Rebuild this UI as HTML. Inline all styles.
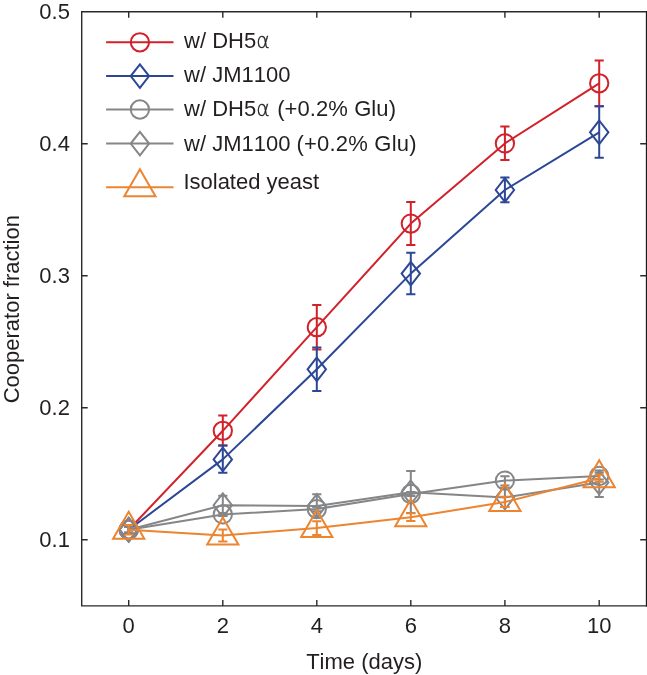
<!DOCTYPE html>
<html lang="en"><head><meta charset="utf-8"><title>Cooperator fraction vs time</title>
<style>html,body{margin:0;padding:0;background:#fff}svg{display:block}</style></head>
<body>
<svg width="647" height="675" viewBox="0 0 647 675">
<rect width="647" height="675" fill="#fff"/>
<g stroke="#2b2a2b" stroke-width="1.4" fill="none" stroke-linecap="butt">
<path d="M646.8000000000001 11.7H81.7V605.9H646.8000000000001"/>
<rect x="645.85" y="11.05" width="1.15" height="595.50" fill="#1a1a1a" stroke="none"/>
<path d="M128.7 605.9v-6M128.7 11.7v6"/>
<path d="M222.8 605.9v-6M222.8 11.7v6"/>
<path d="M316.8 605.9v-6M316.8 11.7v6"/>
<path d="M410.8 605.9v-6M410.8 11.7v6"/>
<path d="M504.9 605.9v-6M504.9 11.7v6"/>
<path d="M599.2 605.9v-6M599.2 11.7v6"/>
<path d="M81.7 539.8h6M646.2 539.8h-6"/>
<path d="M81.7 407.8h6M646.2 407.8h-6"/>
<path d="M81.7 275.7h6M646.2 275.7h-6"/>
<path d="M81.7 143.7h6M646.2 143.7h-6"/>
</g>
<g stroke="#d1212a" stroke-width="2.0" fill="none">
<polyline points="128.7,529.7 222.8,430.8 316.8,327.2 410.8,223.6 504.9,143.4 599.2,83.3" stroke-linejoin="round"/>
<path d="M128.7 526.0V533.4M124.1 526.0h9.2M124.1 533.4h9.2"/>
<path d="M222.8 415.6V445.4M218.2 415.6h9.2M218.2 445.4h9.2"/>
<path d="M316.8 304.9V349.4M312.2 304.9h9.2M312.2 349.4h9.2"/>
<path d="M410.8 202.1V245.1M406.2 202.1h9.2M406.2 245.1h9.2"/>
<path d="M504.9 126.4V160.0M500.3 126.4h9.2M500.3 160.0h9.2"/>
<path d="M599.2 60.5V106.3M594.6 60.5h9.2M594.6 106.3h9.2"/>
</g>
<circle cx="128.7" cy="529.7" r="9.15" fill="none" stroke="#d1212a" stroke-width="2.0"/>
<circle cx="222.8" cy="430.8" r="9.15" fill="none" stroke="#d1212a" stroke-width="2.0"/>
<circle cx="316.8" cy="327.2" r="9.15" fill="none" stroke="#d1212a" stroke-width="2.0"/>
<circle cx="410.8" cy="223.6" r="9.15" fill="none" stroke="#d1212a" stroke-width="2.0"/>
<circle cx="504.9" cy="143.4" r="9.15" fill="none" stroke="#d1212a" stroke-width="2.0"/>
<circle cx="599.2" cy="83.3" r="9.15" fill="none" stroke="#d1212a" stroke-width="2.0"/>
<g stroke="#2c4796" stroke-width="2.0" fill="none">
<polyline points="128.7,529.7 222.8,459.4 316.8,369.3 410.8,273.6 504.9,190.0 599.2,132.3" stroke-linejoin="round"/>
<path d="M128.7 526.0V533.4M124.1 526.0h9.2M124.1 533.4h9.2"/>
<path d="M222.8 445.4V472.8M218.2 445.4h9.2M218.2 472.8h9.2"/>
<path d="M316.8 347.5V391.1M312.2 347.5h9.2M312.2 391.1h9.2"/>
<path d="M410.8 252.7V294.2M406.2 252.7h9.2M406.2 294.2h9.2"/>
<path d="M504.9 177.6V202.2M500.3 177.6h9.2M500.3 202.2h9.2"/>
<path d="M599.2 106.3V157.8M594.6 106.3h9.2M594.6 157.8h9.2"/>
</g>
<path d="M128.7 517.9L137.9 529.7L128.7 541.5L119.5 529.7Z" fill="none" stroke="#2c4796" stroke-width="2.0" stroke-linejoin="miter"/>
<path d="M222.8 447.6L232.0 459.4L222.8 471.2L213.6 459.4Z" fill="none" stroke="#2c4796" stroke-width="2.0" stroke-linejoin="miter"/>
<path d="M316.8 357.5L326.0 369.3L316.8 381.1L307.6 369.3Z" fill="none" stroke="#2c4796" stroke-width="2.0" stroke-linejoin="miter"/>
<path d="M410.8 261.8L420.0 273.6L410.8 285.4L401.6 273.6Z" fill="none" stroke="#2c4796" stroke-width="2.0" stroke-linejoin="miter"/>
<path d="M504.9 178.2L514.1 190.0L504.9 201.8L495.7 190.0Z" fill="none" stroke="#2c4796" stroke-width="2.0" stroke-linejoin="miter"/>
<path d="M599.2 120.5L608.4 132.3L599.2 144.1L590.0 132.3Z" fill="none" stroke="#2c4796" stroke-width="2.0" stroke-linejoin="miter"/>
<g stroke="#858688" stroke-width="2.0" fill="none">
<polyline points="128.7,529.7 222.8,514.4 316.8,509.1 410.8,494.0 504.9,480.6 599.2,476.0" stroke-linejoin="round"/>
<path d="M128.7 527.0V532.5M124.1 527.0h9.2M124.1 532.5h9.2"/>
<path d="M222.8 512.9V515.9M218.2 512.9h9.2M218.2 515.9h9.2"/>
<path d="M316.8 507.0V511.2M312.2 507.0h9.2M312.2 511.2h9.2"/>
<path d="M410.8 492.0V496.0M406.2 492.0h9.2M406.2 496.0h9.2"/>
<path d="M504.9 476.2V485.6M500.3 476.2h9.2M500.3 485.6h9.2"/>
<path d="M599.2 472.5V479.5M594.6 472.5h9.2M594.6 479.5h9.2"/>
</g>
<circle cx="128.7" cy="529.7" r="9.15" fill="none" stroke="#858688" stroke-width="2.0"/>
<circle cx="222.8" cy="514.4" r="9.15" fill="none" stroke="#858688" stroke-width="2.0"/>
<circle cx="316.8" cy="509.1" r="9.15" fill="none" stroke="#858688" stroke-width="2.0"/>
<circle cx="410.8" cy="494.0" r="9.15" fill="none" stroke="#858688" stroke-width="2.0"/>
<circle cx="504.9" cy="480.6" r="9.15" fill="none" stroke="#858688" stroke-width="2.0"/>
<circle cx="599.2" cy="476.0" r="9.15" fill="none" stroke="#858688" stroke-width="2.0"/>
<g stroke="#858688" stroke-width="2.0" fill="none">
<polyline points="128.7,529.7 222.8,505.2 316.8,506.0 410.8,492.3 504.9,497.5 599.2,482.6" stroke-linejoin="round"/>
<path d="M128.7 527.0V532.5M124.1 527.0h9.2M124.1 532.5h9.2"/>
<path d="M222.8 495.8V515.9M218.2 495.8h9.2M218.2 515.9h9.2"/>
<path d="M316.8 494.3V517.7M312.2 494.3h9.2M312.2 517.7h9.2"/>
<path d="M410.8 471.0V513.0M406.2 471.0h9.2M406.2 513.0h9.2"/>
<path d="M504.9 487.9V507.1M500.3 487.9h9.2M500.3 507.1h9.2"/>
<path d="M599.2 470.5V497.0M594.6 470.5h9.2M594.6 497.0h9.2"/>
</g>
<path d="M128.7 517.9L137.9 529.7L128.7 541.5L119.5 529.7Z" fill="none" stroke="#858688" stroke-width="2.0" stroke-linejoin="miter"/>
<path d="M222.8 493.4L232.0 505.2L222.8 517.0L213.6 505.2Z" fill="none" stroke="#858688" stroke-width="2.0" stroke-linejoin="miter"/>
<path d="M316.8 494.2L326.0 506.0L316.8 517.8L307.6 506.0Z" fill="none" stroke="#858688" stroke-width="2.0" stroke-linejoin="miter"/>
<path d="M410.8 480.5L420.0 492.3L410.8 504.1L401.6 492.3Z" fill="none" stroke="#858688" stroke-width="2.0" stroke-linejoin="miter"/>
<path d="M504.9 485.7L514.1 497.5L504.9 509.3L495.7 497.5Z" fill="none" stroke="#858688" stroke-width="2.0" stroke-linejoin="miter"/>
<path d="M599.2 470.8L608.4 482.6L599.2 494.4L590.0 482.6Z" fill="none" stroke="#858688" stroke-width="2.0" stroke-linejoin="miter"/>
<g stroke="#ec8430" stroke-width="2.0" fill="none">
<polyline points="128.7,529.8 222.8,535.4 316.8,527.9 410.8,517.3 504.9,502.0 599.2,478.3" stroke-linejoin="round"/>
<path d="M128.7 524.9V534.6M124.1 524.9h9.2M124.1 534.6h9.2"/>
<path d="M222.8 529.5V541.6M218.2 529.5h9.2M218.2 541.6h9.2"/>
<path d="M316.8 521.3V535.0M312.2 521.3h9.2M312.2 535.0h9.2"/>
<path d="M410.8 513.2V521.1M406.2 513.2h9.2M406.2 521.1h9.2"/>
<path d="M504.9 496.7V507.1M500.3 496.7h9.2M500.3 507.1h9.2"/>
<path d="M599.2 474.8V481.8M594.6 474.8h9.2M594.6 481.8h9.2"/>
</g>
<path d="M128.7 511.8L144.3 538.8L113.1 538.8Z" fill="none" stroke="#ec8430" stroke-width="2.0" stroke-linejoin="miter"/>
<path d="M222.8 517.4L238.4 544.4L207.2 544.4Z" fill="none" stroke="#ec8430" stroke-width="2.0" stroke-linejoin="miter"/>
<path d="M316.8 509.9L332.4 536.9L301.2 536.9Z" fill="none" stroke="#ec8430" stroke-width="2.0" stroke-linejoin="miter"/>
<path d="M410.8 499.3L426.4 526.3L395.2 526.3Z" fill="none" stroke="#ec8430" stroke-width="2.0" stroke-linejoin="miter"/>
<path d="M504.9 484.0L520.5 511.0L489.3 511.0Z" fill="none" stroke="#ec8430" stroke-width="2.0" stroke-linejoin="miter"/>
<path d="M599.2 460.3L614.8 487.3L583.6 487.3Z" fill="none" stroke="#ec8430" stroke-width="2.0" stroke-linejoin="miter"/>
<path d="M106.1 42.3H173.5" stroke="#d1212a" stroke-width="2.0" fill="none"/>
<circle cx="139.9" cy="42.3" r="9.15" fill="none" stroke="#d1212a" stroke-width="2.0"/>
<path d="M106.1 76.1H173.5" stroke="#2c4796" stroke-width="2.0" fill="none"/>
<path d="M139.9 64.3L149.1 76.1L139.9 87.9L130.7 76.1Z" fill="none" stroke="#2c4796" stroke-width="2.0" stroke-linejoin="miter"/>
<path d="M106.1 109.5H173.5" stroke="#858688" stroke-width="2.0" fill="none"/>
<circle cx="139.9" cy="109.5" r="9.15" fill="none" stroke="#858688" stroke-width="2.0"/>
<path d="M106.1 143.6H173.5" stroke="#858688" stroke-width="2.0" fill="none"/>
<path d="M139.9 131.8L149.1 143.6L139.9 155.4L130.7 143.6Z" fill="none" stroke="#858688" stroke-width="2.0" stroke-linejoin="miter"/>
<path d="M106.1 187.3H173.5" stroke="#ec8430" stroke-width="2.0" fill="none"/>
<path d="M139.9 169.3L155.5 196.3L124.3 196.3Z" fill="none" stroke="#ec8430" stroke-width="2.0" stroke-linejoin="miter"/>
<g font-family="Liberation Sans, Arial, Helvetica, sans-serif" font-size="22" style="font-kerning:none" fill="#231f20">
<text x="184.1" y="48.2">w/ DH5<tspan font-family="DejaVu Sans, sans-serif" font-weight="200" font-size="20.5" stroke="#231f20" stroke-width="0.35">α</tspan></text>
<text x="184.1" y="82.4">w/ JM1100</text>
<text x="184.1" y="116.2">w/ DH5<tspan font-family="DejaVu Sans, sans-serif" font-weight="200" font-size="20.5" stroke="#231f20" stroke-width="0.35">α</tspan> <tspan x="277.2" letter-spacing="0.08">(+0.2% Glu)</tspan></text>
<text x="184.1" y="150.6">w/ JM1100 <tspan x="296.5" letter-spacing="0.2">(+0.2% Glu)</tspan></text>
<text x="183.4" y="189.3">Isolated yeast</text>
<text x="128.7" y="632.6" text-anchor="middle">0</text>
<text x="222.8" y="632.6" text-anchor="middle">2</text>
<text x="316.8" y="632.6" text-anchor="middle">4</text>
<text x="410.8" y="632.6" text-anchor="middle">6</text>
<text x="504.9" y="632.6" text-anchor="middle">8</text>
<text x="599.2" y="632.6" text-anchor="middle">10</text>
<text x="69.9" y="547.4" text-anchor="end">0.1</text>
<text x="69.9" y="415.4" text-anchor="end">0.2</text>
<text x="69.9" y="283.3" text-anchor="end">0.3</text>
<text x="69.9" y="151.3" text-anchor="end">0.4</text>
<text x="69.9" y="19.3" text-anchor="end">0.5</text>
<text x="364.2" y="668.8" text-anchor="middle">Time (days)</text>
<text transform="translate(19.3 309.2) rotate(-90)" text-anchor="middle">Cooperator fraction</text>
</g>
</svg>
</body></html>
